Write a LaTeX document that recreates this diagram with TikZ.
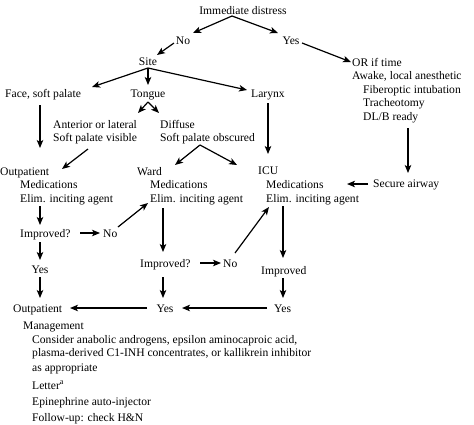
\documentclass[tikz,border=0pt]{standalone}
\usepackage{fontspec}
\setmainfont{Liberation Serif}
\usetikzlibrary{arrows.meta}
\begin{document}
\begin{tikzpicture}[x=1pt,y=-1pt,
    lbl/.style={inner sep=0pt, anchor=base west, font=\fontsize{11.6}{14}\selectfont},
    arr/.style={-{Stealth[length=8pt,width=6.5pt,inset=2pt]}, line width=1.2pt}]
    \useasboundingbox (0,0) rectangle (474,424);

    % Top decision
    \node[lbl, anchor=base] (dist) at (243,14) {Immediate distress};
    \node[lbl, anchor=base] (no1) at (183,44) {No};
    \node[lbl, anchor=base] (yes1) at (291,44) {Yes};
    \node[lbl, anchor=base] (site) at (148,65) {Site};

    % Immediate airway
    \node[lbl] (orTime) at (352,66) {OR if time};
    \node[lbl] (awake) at (352,79) {Awake, local anesthetic};
    \foreach \nm/\yy/\txt in {fiber/93/{Fiberoptic intubation}, trach/106/{Tracheotomy}, dlb/120/{DL{/}B ready}} {
        \node[lbl] (\nm) at (363,\yy) {\txt};
    }
    \node[lbl] (secure) at (373,187) {Secure airway};

    % Sites
    \node[lbl] (face) at (5,97) {Face, soft palate};
    \node[lbl, anchor=base] (tongue) at (148,97) {Tongue};
    \node[lbl] (larynx) at (251,97) {Larynx};
    \node[lbl] (ant) at (53,128) {Anterior or lateral};
    \node[lbl] (antVis) at (53,141) {Soft palate visible};
    \node[lbl] (diff) at (160,128) {Diffuse};
    \node[lbl] (diffObs) at (160,141) {Soft palate obscured};

    % Care settings
    \node[lbl] (outp) at (0,175) {Outpatient};
    \node[lbl] (outpMed) at (20,188) {Medications};
    \node[lbl] (outpElim) at (20,202) {Elim. inciting agent};
    \node[lbl] (ward) at (137,175) {Ward};
    \node[lbl] (wardMed) at (150,188) {Medications};
    \node[lbl] (wardElim) at (150,202) {Elim. inciting agent};
    \node[lbl] (icu) at (258,174) {ICU};
    \node[lbl] (icuMed) at (266,188) {Medications};
    \node[lbl] (icuElim) at (266,202) {Elim. inciting agent};

    % Outcomes
    \node[lbl] (impA) at (20,237) {Improved?};
    \node[lbl] (noA) at (103,237) {No};
    \node[lbl, anchor=base] (yesA) at (40,273) {Yes};
    \node[lbl] (impB) at (140,267) {Improved?};
    \node[lbl] (noB) at (223,267) {No};
    \node[lbl] (impC) at (261,274) {Improved};
    \node[lbl, anchor=base] (yesB) at (165,312) {Yes};
    \node[lbl] (yesC) at (274,312) {Yes};
    \node[lbl] (outp2) at (13,312) {Outpatient};

    % Management
    \node[lbl] (mgmt) at (23,329) {Management};
    \foreach \nm/\yy/\txt in {con1/343/{Consider anabolic androgens, epsilon aminocaproic acid,},
                              con2/356/{plasma-derived C1-INH concentrates, or kallikrein inhibitor},
                              con3/371/{as appropriate},
                              letter/389/{Letter\textsuperscript{a}},
                              epi/405/{Epinephrine auto-injector},
                              follow/421/{Follow-up: check H\&N}} {
        \node[lbl] (\nm) at (32,\yy) {\txt};
    }

    % Arrows: top
    \draw[arr] ([shift={(-11,2)}]dist.base) -- ([shift={(10,-11)}]no1.base);
    \draw[arr] ([shift={(-11,2)}]dist.base) -- ([shift={(-13,-11)}]yes1.base);
    \draw[arr] ([shift={(-9,-1)}]no1.base) -- ([shift={(9,-10)}]site.base);
    \draw[arr] ([shift={(11,-1)}]yes1.base) -- ([shift={(-1,-4)}]orTime.base west);

    % Arrows: sites
    \draw[arr] ([shift={(0,3)}]site.base) -- ([shift={(87,-10)}]face.base west);
    \draw[arr] ([shift={(0,3)}]site.base) -- ([shift={(0,-12)}]tongue.base);
    \draw[arr] ([shift={(0,3)}]site.base) -- ([shift={(-4,-7)}]larynx.base west);
    \draw[arr] ([shift={(0,5)}]tongue.base) -- ([shift={(85,-15)}]ant.base west);
    \draw[arr] ([shift={(0,5)}]tongue.base) -- ([shift={(-1,-15)}]diff.base west);

    % Arrows: into care settings
    \draw[arr] ([shift={(35,8)}]face.base west) -- ([shift={(40,-27)}]outp.base west);
    \draw[arr] ([shift={(35,8)}]antVis.base west) -- ([shift={(62,-6)}]outp.base west);
    \draw[arr] ([shift={(40,4)}]diffObs.base west) -- ([shift={(38,-10)}]ward.base west);
    \draw[arr] ([shift={(40,4)}]diffObs.base west) -- ([shift={(-21,-9)}]icu.base west);
    \draw[arr] ([shift={(17,6)}]larynx.base west) -- ([shift={(10,-20)}]icu.base west);
    \draw[arr] ([shift={(45,8)}]dlb.base west) -- ([shift={(35,-14)}]secure.base west);
    \draw[arr] ([shift={(-5,-3)}]secure.base west) -- ([shift={(81,-4)}]icuMed.base west);

    % Arrows: outpatient column
    \draw[arr] ([shift={(20,4)}]outpElim.base west) -- ([shift={(20,-12)}]impA.base west);
    \draw[arr] ([shift={(60,-4)}]impA.base west) -- ([shift={(-3,-4)}]noA.base west);
    \draw[arr] ([shift={(15,-10)}]noA.base west) -- ([shift={(-2,1)}]wardElim.base west);
    \draw[arr] ([shift={(20,5)}]impA.base west) -- ([shift={(0,-13)}]yesA.base);
    \draw[arr] ([shift={(0,4)}]yesA.base) -- ([shift={(27,-14)}]outp2.base west);

    % Arrows: ward column
    \draw[arr] ([shift={(13,6)}]wardElim.base west) -- ([shift={(23,-15)}]impB.base west);
    \draw[arr] ([shift={(60,-4)}]impB.base west) -- ([shift={(-2,-4)}]noB.base west);
    \draw[arr] ([shift={(12,-14)}]noB.base west) -- ([shift={(3,5)}]icuElim.base west);
    \draw[arr] ([shift={(23,10)}]impB.base west) -- ([shift={(-2,-14)}]yesB.base);

    % Arrows: ICU column
    \draw[arr] ([shift={(17,4)}]icuElim.base west) -- ([shift={(22,-16)}]impC.base west);
    \draw[arr] ([shift={(22,4)}]impC.base west) -- ([shift={(9,-14)}]yesC.base west);

    % Arrows: back to outpatient
    \draw[arr] ([shift={(-7,-4)}]yesC.base west) -- ([shift={(17,-4)}]yesB.base);
    \draw[arr] ([shift={(-18,-4)}]yesB.base) -- ([shift={(57,-4)}]outp2.base west);
\end{tikzpicture}
\end{document}
